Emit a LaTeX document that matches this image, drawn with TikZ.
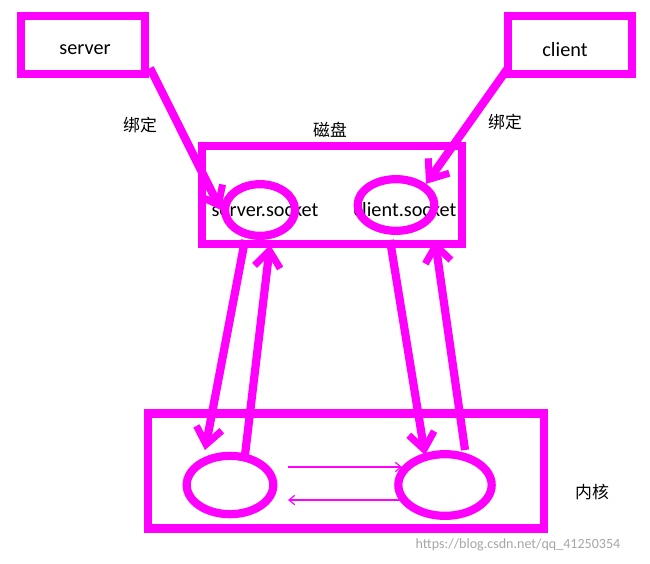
\documentclass[tikz,border=0pt]{standalone}
\usepackage{fontspec}
\setmainfont{Carlito}
\newfontfamily\cjk{Noto Sans CJK SC}
\usetikzlibrary{arrows.meta,shapes.geometric}
\definecolor{mag}{RGB}{255,0,255}
\tikzset{
  thick box/.style={draw=mag,line width=7pt,inner sep=0pt},
  thick ell/.style={draw=mag,line width=7pt,ellipse,inner sep=0pt},
  fat arrow/.style={draw=mag,line width=7pt,-{Straight Barb[length=14pt,width=22pt,line width=6pt]}},
  thin arrow/.style={color=mag,line width=1pt,-{Straight Barb[length=5pt,width=8pt]}},
}
\begin{document}
\begin{tikzpicture}[x=0.03cm,y=-0.03cm]
\useasboundingbox (0,0) rectangle (650,563);
\node[thick box,minimum width=3.7cm,minimum height=1.75cm] (server) at (83,45) {};
\node[font=\LARGE] at (85,50) {server};
\node[thick box,minimum width=3.7cm,minimum height=1.75cm] (client) at (570,45) {};
\node[font=\LARGE] at (565,50) {client};
\node[thick box,minimum width=7.8cm,minimum height=2.95cm] (disk) at (332,195) {};
\node[thick box,minimum width=11.9cm,minimum height=3.45cm] (kernel) at (346,471) {};
\node[font=\cjk\Large] at (140,125) {绑定};
\node[font=\cjk\Large] at (505,122) {绑定};
\node[font=\cjk\Large] at (330,130) {磁盘};
\node[font=\cjk\Large] at (592,492) {内核};
\node[font=\LARGE] at (265,210) {server.socket};
\node[font=\LARGE] at (405,210) {client.socket};
\node[thick ell,minimum width=2.1cm,minimum height=1.55cm] (ssock) at (260,210) {};
\node[thick ell,minimum width=2.3cm,minimum height=1.55cm] (csock) at (396,205) {};
\node[thick ell,minimum width=2.6cm,minimum height=1.75cm] (sk) at (230,485) {};
\node[thick ell,minimum width=2.8cm,minimum height=1.85cm] (ck) at (445,485) {};
\node[text=gray!70,font=\large] at (518,545) {https://blog.csdn.net/qq\_41250354};
\coordinate (s1) at (150,68);
\coordinate (c1) at (508,68);
\draw[fat arrow] (s1) -- (ssock.west);
\draw[fat arrow] (c1) -- (csock.north east);
\draw[fat arrow] (245,240) -- (205,450);
\draw[fat arrow] (245,455) -- (270,245);
\draw[fat arrow] (390,240) -- (425,455);
\draw[fat arrow] (465,450) -- (435,240);
\coordinate (a1) at (288,467);
\coordinate (b1) at (402,467);
\coordinate (a2) at (400,500);
\coordinate (b2) at (288,500);
\draw[thin arrow] (a1) -- (b1);
\draw[thin arrow] (a2) -- (b2);
\end{tikzpicture}
\end{document}
